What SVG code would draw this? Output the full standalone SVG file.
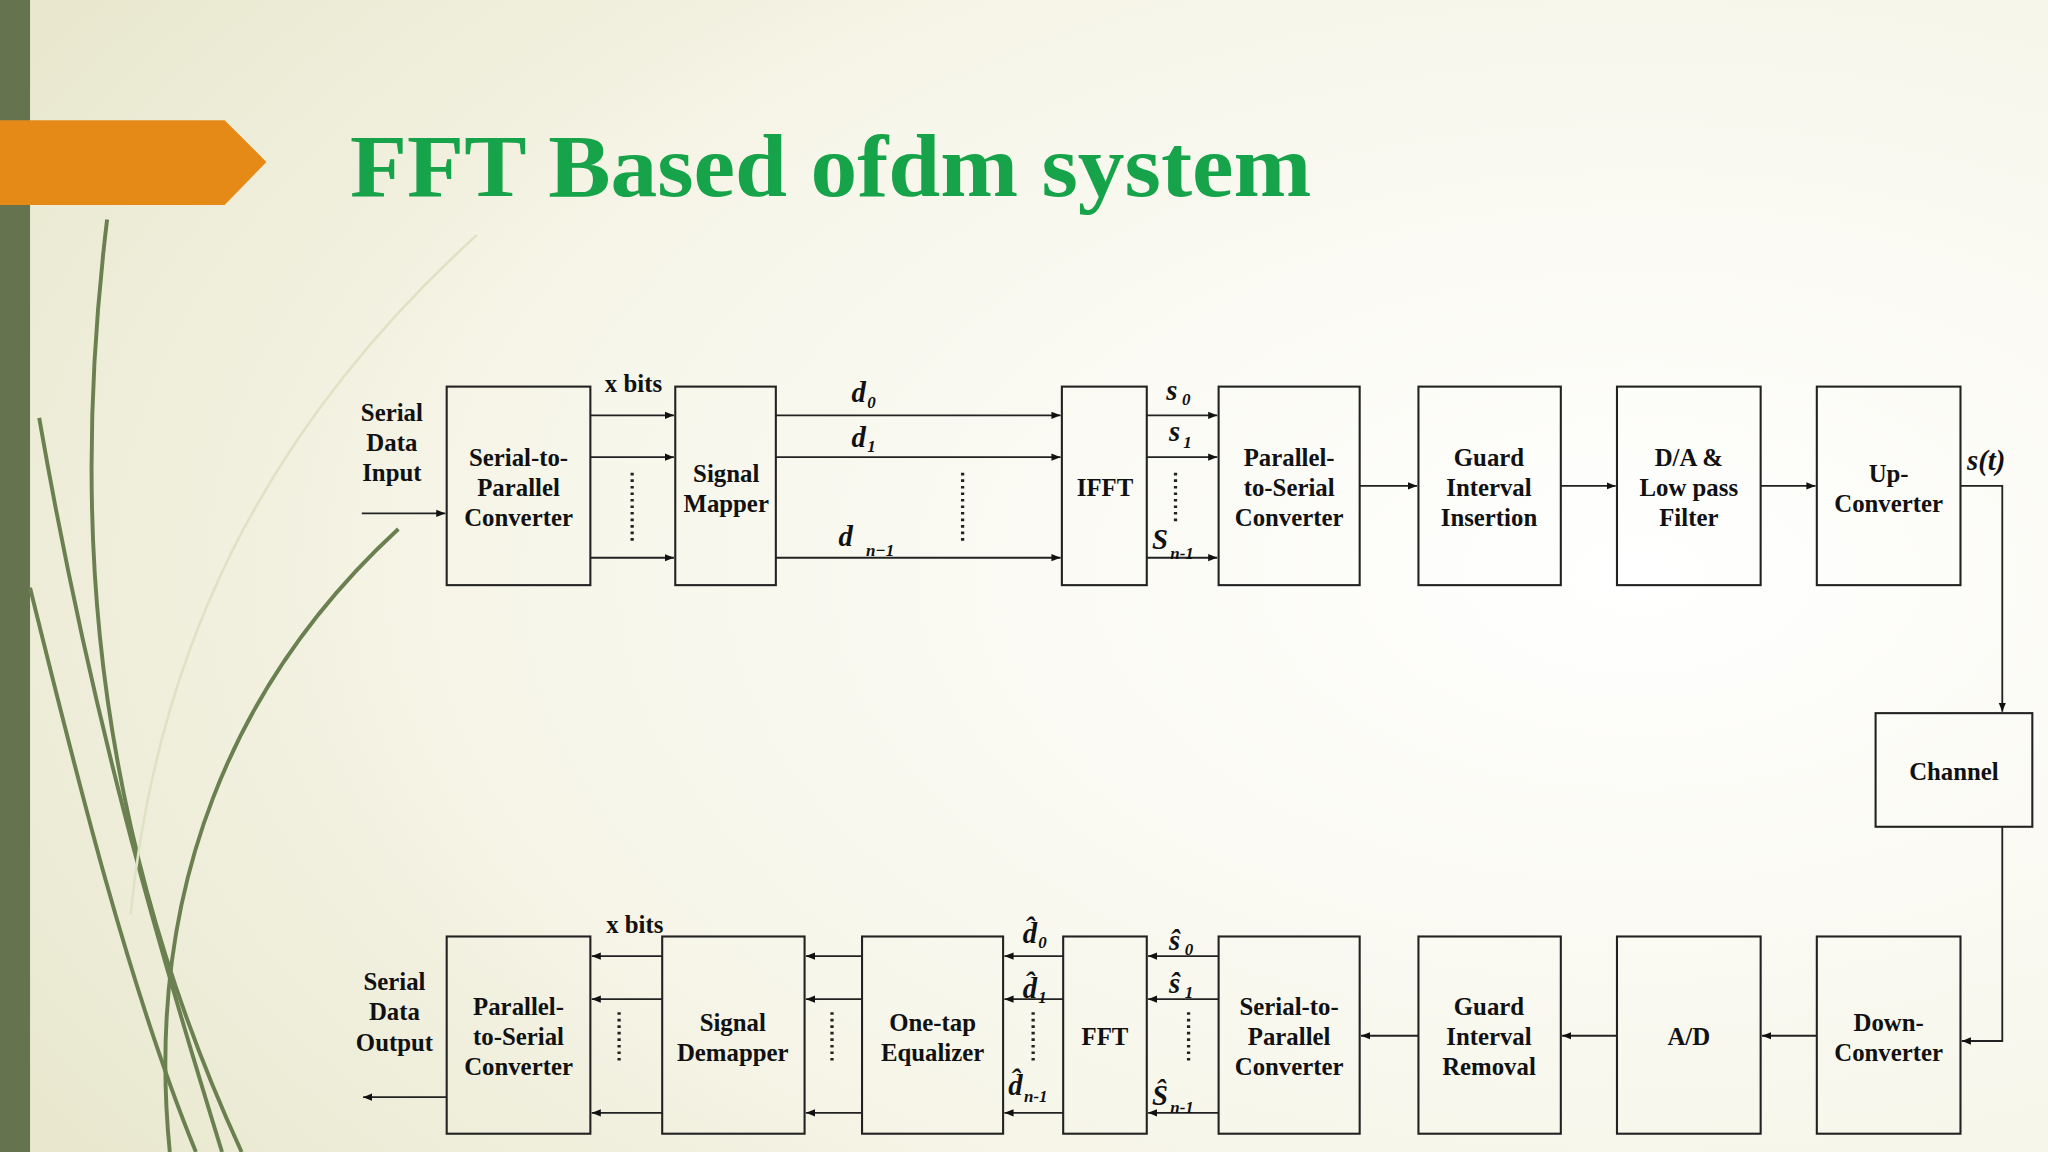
<svg xmlns="http://www.w3.org/2000/svg" width="2048" height="1152" viewBox="0 0 2048 1152">
<defs>
<radialGradient id="bg" cx="0.8" cy="0.5" r="0.9">
<stop offset="0" stop-color="#ffffff"/><stop offset="0.6" stop-color="#f7f6ea"/><stop offset="1" stop-color="#e9e8cf"/>
</radialGradient>
<marker id="ar" viewBox="0 0 10 10" refX="10" refY="5" markerWidth="7" markerHeight="7" orient="auto" markerUnits="userSpaceOnUse"><path d="M0,1 L10,5 L0,9 z" fill="#111"/></marker>
<style>
.b{fill:none;stroke:#222;stroke-width:1.6}
.l{fill:none;stroke:#222;stroke-width:1.4;marker-end:url(#ar)}
.d{fill:none;stroke:#222;stroke-width:2.5;stroke-dasharray:2 3}
.t{font-family:"Liberation Serif",serif;font-weight:bold;font-size:19px;fill:#111;text-anchor:middle}
.m{font-family:"Liberation Serif",serif;font-weight:bold;font-style:italic;font-size:22px;fill:#111}
.s{font-family:"Liberation Serif",serif;font-weight:bold;font-style:italic;font-size:13px;fill:#111}
.g{fill:none;stroke:#6b8050;stroke-width:3}
</style>
</defs>
<rect width="2048" height="1152" fill="url(#bg)"/>
<g transform="scale(1.30612)">
<rect x="0" y="0" width="23" height="882" fill="#66734f"/>
<g id="deco">
<path class="g" d="M82,168 C60,350 55,600 185,882"/>
<path class="g" d="M30,320 C70,550 120,720 170,882" stroke-width="4"/>
<path class="g" d="M305,405 C180,520 110,680 130,882" stroke-width="2"/>
<path d="M365,180 C200,330 120,500 100,700" fill="none" stroke="#dfe2c4" stroke-width="2"/>
<path class="g" d="M23,450 C60,600 100,760 150,882" stroke-width="2"/>
</g>
<polygon points="0,92 172,92 204,124 172,157 0,157" fill="#e68a17"/>
<text x="268" y="150" font-family="Liberation Serif,serif" font-weight="bold" font-size="68" fill="#17a34a" textLength="736" lengthAdjust="spacingAndGlyphs">FFT Based ofdm system</text>

<g id="nodes">
<g id="sp1"><rect class="b" x="342" y="296" width="110" height="152"/><text class="t" x="397" y="357">Serial-to-</text><text class="t" x="397" y="380">Parallel</text><text class="t" x="397" y="403">Converter</text></g>
<g id="map"><rect class="b" x="517" y="296" width="77" height="152"/><text class="t" x="556" y="369">Signal</text><text class="t" x="556" y="392">Mapper</text></g>
<g id="ifft"><rect class="b" x="813" y="296" width="65" height="152"/><text class="t" x="846" y="380">IFFT</text></g>
<g id="ps1"><rect class="b" x="933" y="296" width="108" height="152"/><text class="t" x="987" y="357">Parallel-</text><text class="t" x="987" y="380">to-Serial</text><text class="t" x="987" y="403">Converter</text></g>
<g id="gii"><rect class="b" x="1086" y="296" width="109" height="152"/><text class="t" x="1140" y="357">Guard</text><text class="t" x="1140" y="380">Interval</text><text class="t" x="1140" y="403">Insertion</text></g>
<g id="da"><rect class="b" x="1238" y="296" width="110" height="152"/><text class="t" x="1293" y="357">D/A &amp;</text><text class="t" x="1293" y="380">Low pass</text><text class="t" x="1293" y="403">Filter</text></g>
<g id="up"><rect class="b" x="1391" y="296" width="110" height="152"/><text class="t" x="1446" y="369">Up-</text><text class="t" x="1446" y="392">Converter</text></g>
<g id="ch"><rect class="b" x="1436" y="546" width="120" height="87"/><text class="t" x="1496" y="597">Channel</text></g>
<g id="down"><rect class="b" x="1391" y="717" width="110" height="151"/><text class="t" x="1446" y="789">Down-</text><text class="t" x="1446" y="812">Converter</text></g>
<g id="ad"><rect class="b" x="1238" y="717" width="110" height="151"/><text class="t" x="1293" y="800">A/D</text></g>
<g id="gir"><rect class="b" x="1086" y="717" width="109" height="151"/><text class="t" x="1140" y="777">Guard</text><text class="t" x="1140" y="800">Interval</text><text class="t" x="1140" y="823">Removal</text></g>
<g id="sp2"><rect class="b" x="933" y="717" width="108" height="151"/><text class="t" x="987" y="777">Serial-to-</text><text class="t" x="987" y="800">Parallel</text><text class="t" x="987" y="823">Converter</text></g>
<g id="fft"><rect class="b" x="814" y="717" width="64" height="151"/><text class="t" x="846" y="800">FFT</text></g>
<g id="eq"><rect class="b" x="660" y="717" width="108" height="151"/><text class="t" x="714" y="789">One-tap</text><text class="t" x="714" y="812">Equalizer</text></g>
<g id="dem"><rect class="b" x="507" y="717" width="109" height="151"/><text class="t" x="561" y="789">Signal</text><text class="t" x="561" y="812">Demapper</text></g>
<g id="ps2"><rect class="b" x="342" y="717" width="110" height="151"/><text class="t" x="397" y="777">Parallel-</text><text class="t" x="397" y="800">to-Serial</text><text class="t" x="397" y="823">Converter</text></g>
</g>

<g id="connectors">
<path class="l" d="M277,393 H341"/>
<path class="l" d="M452,318 H516"/><path class="l" d="M452,350 H516"/><path class="l" d="M452,427 H516"/>
<path class="l" d="M594,318 H812"/><path class="l" d="M594,350 H812"/><path class="l" d="M594,427 H812"/>
<path class="l" d="M878,318 H932"/><path class="l" d="M878,350 H932"/><path class="l" d="M878,427 H932"/>
<path class="l" d="M1041,372 H1085"/><path class="l" d="M1195,372 H1237"/><path class="l" d="M1348,372 H1390"/>
<path class="l" d="M1501,372 H1533 V545"/>
<path class="l" d="M1533,633 V797 H1502"/>
<path class="l" d="M1391,793 H1349"/><path class="l" d="M1238,793 H1196"/><path class="l" d="M1086,793 H1042"/>
<path class="l" d="M933,732 H879"/><path class="l" d="M933,765 H879"/><path class="l" d="M933,852 H879"/>
<path class="l" d="M814,732 H769"/><path class="l" d="M814,765 H769"/><path class="l" d="M814,852 H769"/>
<path class="l" d="M660,732 H617"/><path class="l" d="M660,765 H617"/><path class="l" d="M660,852 H617"/>
<path class="l" d="M507,732 H453"/><path class="l" d="M507,765 H453"/><path class="l" d="M507,852 H453"/>
<path class="l" d="M342,840 H278"/>
<path class="d" d="M484,362 V414"/><path class="d" d="M737,362 V414"/><path class="d" d="M900,362 V402"/>
<path class="d" d="M474,775 V815"/><path class="d" d="M637,775 V815"/><path class="d" d="M791,775 V815"/><path class="d" d="M910,775 V815"/>
</g>

<g id="labels">
<text class="t" x="300" y="322">Serial</text><text class="t" x="300" y="345">Data</text><text class="t" x="300" y="368">Input</text>
<text class="t" x="302" y="758">Serial</text><text class="t" x="302" y="781">Data</text><text class="t" x="302" y="805">Output</text>
<text class="t" x="485" y="300">x bits</text><text class="t" x="486" y="714">x bits</text>
<text class="m" x="652" y="308">d</text><text class="s" x="664" y="312">0</text>
<text class="m" x="652" y="342">d</text><text class="s" x="664" y="346">1</text>
<text class="m" x="642" y="418">d</text><text class="s" x="663" y="426">n−1</text>
<text class="m" x="893" y="306">s</text><text class="s" x="905" y="310">0</text>
<text class="m" x="895" y="338">s</text><text class="s" x="906" y="343">1</text>
<text class="m" x="882" y="420">S</text><text class="s" x="896" y="428">n-1</text>
<text class="m" x="1506" y="360" font-size="30">s(t)</text>
<text class="m" x="783" y="722">d̂</text><text class="s" x="795" y="726">0</text>
<text class="m" x="783" y="764">d̂</text><text class="s" x="795" y="768">1</text>
<text class="m" x="772" y="838">d̂</text><text class="s" x="784" y="844">n-1</text>
<text class="m" x="895" y="727">ŝ</text><text class="s" x="907" y="731">0</text>
<text class="m" x="895" y="760">ŝ</text><text class="s" x="907" y="764">1</text>
<text class="m" x="882" y="846">Ŝ</text><text class="s" x="896" y="852">n-1</text>
</g>
</g>
</svg>
